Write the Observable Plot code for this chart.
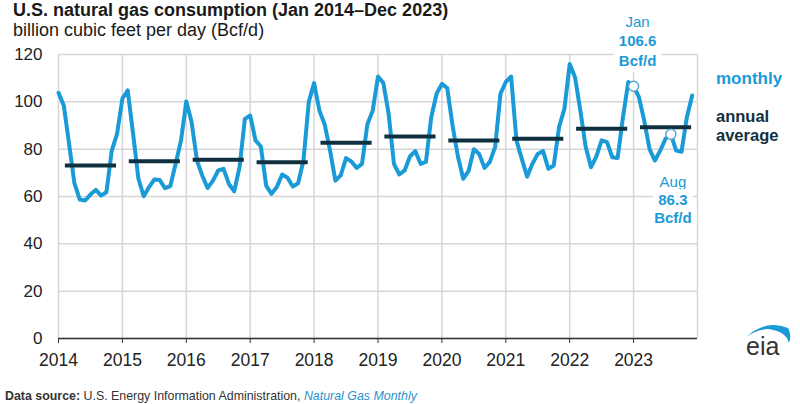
<!DOCTYPE html>
<html><head><meta charset="utf-8">
<script src="https://cdn.jsdelivr.net/npm/d3@7"></script>
<script src="https://cdn.jsdelivr.net/npm/@observablehq/plot@0.6"></script>
<style>
body{margin:0;background:#fff;font-family:"Liberation Sans",Arial,sans-serif;}
#wrap{position:relative;width:800px;height:404px;overflow:hidden;background:#fff}
#chart{position:absolute;left:0;top:0}
.abs{position:absolute;white-space:nowrap;line-height:17px}
</style></head><body>
<div id="wrap">
<div id="chart"></div>
<div class="abs" style="left:13px;top:2px;font-size:18px;font-weight:bold;color:#1a1a1a">U.S. natural gas consumption (Jan 2014–Dec 2023)</div>
<div class="abs" style="left:13px;top:22px;font-size:18px;color:#1a1a1a">billion cubic feet per day (Bcf/d)</div>
<div class="abs" style="left:716px;top:70px;font-size:17px;font-weight:bold;color:#1a9ad6">monthly</div>
<div class="abs" style="left:716px;top:107px;font-size:16.5px;line-height:19px;font-weight:bold;color:#10303f">annual<br>average</div>
<div class="abs" style="left:5px;top:390px;font-size:12.4px;line-height:12px;color:#333"><b>Data source:</b> U.S. Energy Information Administration, <i style="color:#2a93c9">Natural Gas Monthly</i></div>
<svg class="abs" style="left:740px;top:318px" width="60" height="45" viewBox="740 318 60 45">
  <path d="M746,337 Q766,319 788,328 Q792,335 789,343 Q786,331 768,329 Q756,330 746,337 Z" fill="#1a9ad6"/>
  <text x="746" y="355" font-family="Liberation Sans, Arial, sans-serif" font-size="25" fill="#333">eia</text>
</svg>
</div>
<script>
const years = [2014,2015,2016,2017,2018,2019,2020,2021,2022,2023];
const monthNames = ["Jan","Feb","Mar","Apr","May","Jun","Jul","Aug","Sep","Oct","Nov","Dec"];
// monthly consumption, Bcf/d, one row per year (Jan..Dec)
const monthly = [
  [103.8, 98.4, 82.0, 65.5, 58.7, 58.3, 60.8, 62.8, 60.4, 61.8, 79.4, 86.5],
  [101.4,104.8, 86.6, 67.6, 60.1, 64.0, 67.2, 67.0, 63.5, 64.4, 73.8, 83.6],
  [100.2, 91.4, 75.2, 68.8, 63.6, 66.7, 71.0, 71.7, 65.3, 62.2, 72.4, 92.8],
  [ 94.2, 83.7, 81.1, 64.6, 61.1, 64.0, 69.3, 67.9, 64.2, 65.6, 75.2,100.0],
  [107.9, 96.3, 90.4, 79.4, 66.7, 68.9, 76.2, 74.8, 72.1, 73.8, 90.4, 96.3],
  [110.7,108.0, 94.9, 73.8, 69.3, 71.0, 76.9, 79.2, 73.8, 74.6, 93.5,103.4],
  [107.6,105.8, 90.0, 77.0, 67.5, 70.7, 80.0, 78.0, 72.1, 74.6, 81.0,103.4],
  [108.4,110.7, 83.7, 75.9, 68.4, 73.8, 78.0, 79.2, 71.7, 73.1, 89.3, 97.0],
  [116.0,110.4, 96.3, 81.0, 72.4, 76.9, 83.7, 83.0, 76.6, 76.3, 93.5,108.4],
  [106.6,102.0, 92.0, 80.0, 75.2, 79.4, 84.4, 86.3, 79.4, 78.9, 93.5,102.7]
];
const annualAvg = [73.1, 74.9, 75.5, 74.5, 82.7, 85.3, 83.7, 84.4, 88.6, 89.3];
const yTicks = [0,20,40,60,80,100,120];
const gridYears = [...years, 2024];
const janLines = ["Jan","106.6","Bcf/d"];
const augLines = ["Aug","86.3","Bcf/d"];

const blue = "#1a9ad6", dark = "#10303f";
const monthlyData = years.flatMap((yr,i) => monthly[i].map((v,m) => ({t: yr + m/12, v, yr, month: monthNames[m]})));
const annualData = years.map((yr,i) => ({x1: yr + 0.1, x2: yr + 0.9, v: annualAvg[i]}));
const jan = monthlyData.find(d => d.yr === 2023 && d.month === "Jan");
const aug = monthlyData.find(d => d.yr === 2023 && d.month === "Aug");

function label(pt, txt, dx, dy, bold) {
  return Plot.text([pt], {x: "t", y: "v", text: () => txt, dx, dy, fill: blue,
    stroke: "white", strokeWidth: 12, fontSize: 15, fontWeight: bold ? "bold" : "normal", textAnchor: "middle"});
}

const chart = Plot.plot({
  width: 800, height: 404,
  marginTop: 54, marginBottom: 66, marginLeft: 58, marginRight: 103,
  style: {fontFamily: "Liberation Sans, Arial, sans-serif", fontSize: "17px", color: "#222", background: "transparent"},
  x: {domain: [2014, 2024], label: null},
  y: {domain: [0, 120], label: null},
  marks: [
    Plot.gridX(gridYears, {stroke: "#d6d6d6", strokeOpacity: 1, strokeWidth: 1.5}),
    Plot.gridY(yTicks, {stroke: "#d6d6d6", strokeOpacity: 1, strokeWidth: 1.5}),
    Plot.axisY(yTicks, {tickSize: 0, tickPadding: 16, fontSize: 17, fill: "#222"}),
    Plot.axisX(years, {tickSize: 5, tickPadding: 10, fontSize: 17.5, fill: "#222", stroke: "#333", tickFormat: d => String(d)}),
    Plot.ruleY([0], {stroke: "#333", strokeWidth: 1.5}),
    Plot.line(monthlyData, {x: "t", y: "v", stroke: blue, strokeWidth: 4, strokeLinejoin: "round"}),
    Plot.link(annualData, {x1: "x1", x2: "x2", y1: "v", y2: "v", stroke: dark, strokeWidth: 4}),
    label(jan, janLines[0], 4, -64, false),
    label(jan, janLines[1], 4, -45, true),
    label(jan, janLines[2], 4, -25, true),
    label(aug, augLines[0], 2, 48, false),
    label(aug, augLines[1], 2, 66, true),
    label(aug, augLines[2], 2, 84, true),
    Plot.dot([jan, aug], {x: "t", y: "v", r: 5, fill: "white", stroke: "#5aa9d0", strokeWidth: 1.5})
  ]
});
document.getElementById("chart").appendChild(chart);
</script>
</body></html>
